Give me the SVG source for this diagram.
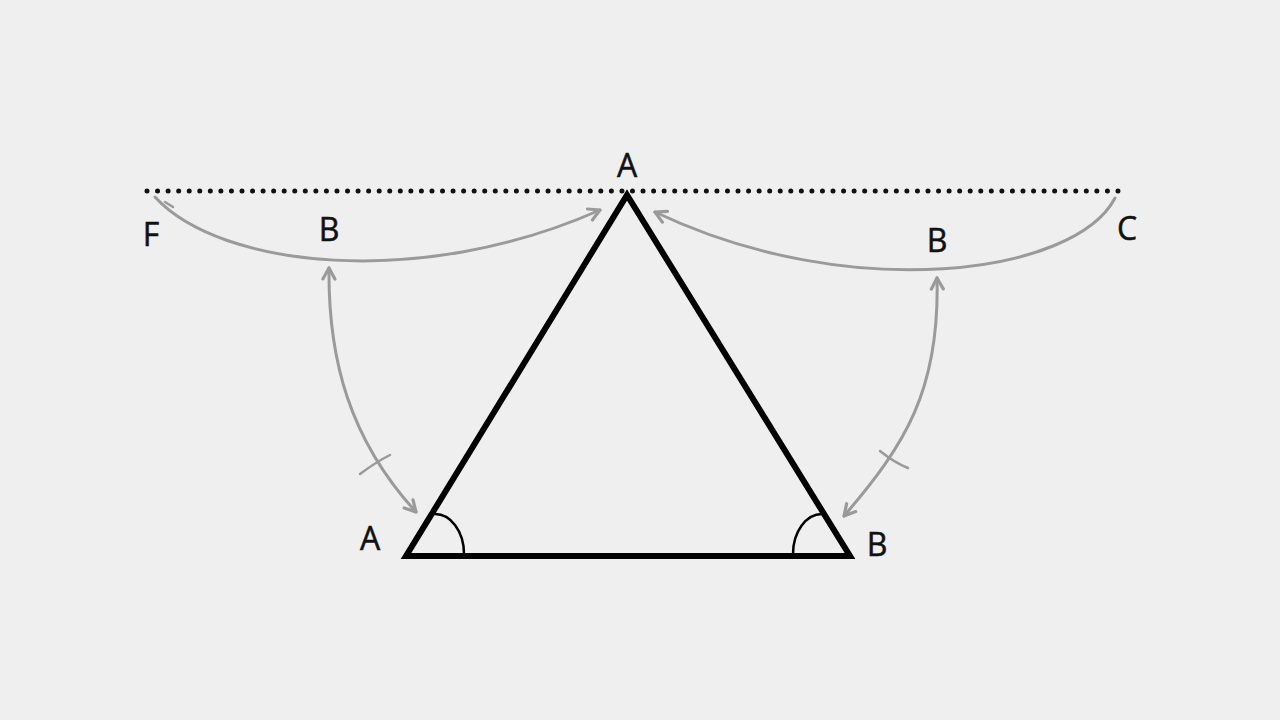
<svg xmlns="http://www.w3.org/2000/svg" width="1280" height="720" viewBox="0 0 1280 720">
<defs>
<marker id="ah" viewBox="0 0 16 16" refX="13" refY="8" markerWidth="16" markerHeight="16" markerUnits="userSpaceOnUse" orient="auto-start-reverse">
<path d="M2,2 L13,8 L2,14" fill="none" stroke="#9a9a9a" stroke-width="3.2" stroke-linecap="round" stroke-linejoin="round"/>
</marker>
<style>
.lbl{font-family:"Open Sans","DejaVu Sans",sans-serif;font-size:32px;fill:#111;text-anchor:middle;stroke:#111;stroke-width:0.5}
.con{fill:none;stroke:#9a9a9a;stroke-width:3;stroke-linecap:round}
.tick{fill:none;stroke:#9a9a9a;stroke-width:2.5;stroke-linecap:round}
</style>
</defs>
<rect width="1280" height="720" fill="#efefef"/>
<g id="dotted-line">
<line x1="147" y1="191" x2="1118" y2="191" stroke="#111" stroke-width="5" stroke-dasharray="0 10.554" stroke-linecap="round"/>
</g>
<g id="triangle">
<path d="M406 556 L627 195 L850 556 Z" fill="none" stroke="#000" stroke-width="6" stroke-linejoin="miter"/>
<path d="M434 514 A 29 40 0 0 1 464 554" fill="none" stroke="#000" stroke-width="2.5"/>
<path d="M793 554 A 29 40 0 0 1 822 514" fill="none" stroke="#000" stroke-width="2.5"/>
</g>
<g id="connectors">
<path class="con" d="M155 197 C220 268 420 290 600 210" marker-end="url(#ah)"/>
<path class="tick" d="M165 202 L173 207"/>
<path class="con" d="M1115 198 C1075 275 850 305 655 212" marker-end="url(#ah)"/>
<path class="con" d="M329 268 C328 360 350 440 416 512" marker-start="url(#ah)" marker-end="url(#ah)"/>
<path class="tick" d="M360 474 Q376 462 390 455"/>
<path class="con" d="M937 278 C940 390 905 445 844 516" marker-start="url(#ah)" marker-end="url(#ah)"/>
<path class="tick" d="M880 451 Q895 463 908 468"/>
</g>
<g id="labels">
<text class="lbl" x="627" y="177">A</text>
<text class="lbl" x="151" y="246">F</text>
<text class="lbl" x="329" y="241">B</text>
<text class="lbl" x="937" y="252">B</text>
<text class="lbl" x="1127" y="240">C</text>
<text class="lbl" x="370" y="550">A</text>
<text class="lbl" x="877" y="556">B</text>
</g>
</svg>
